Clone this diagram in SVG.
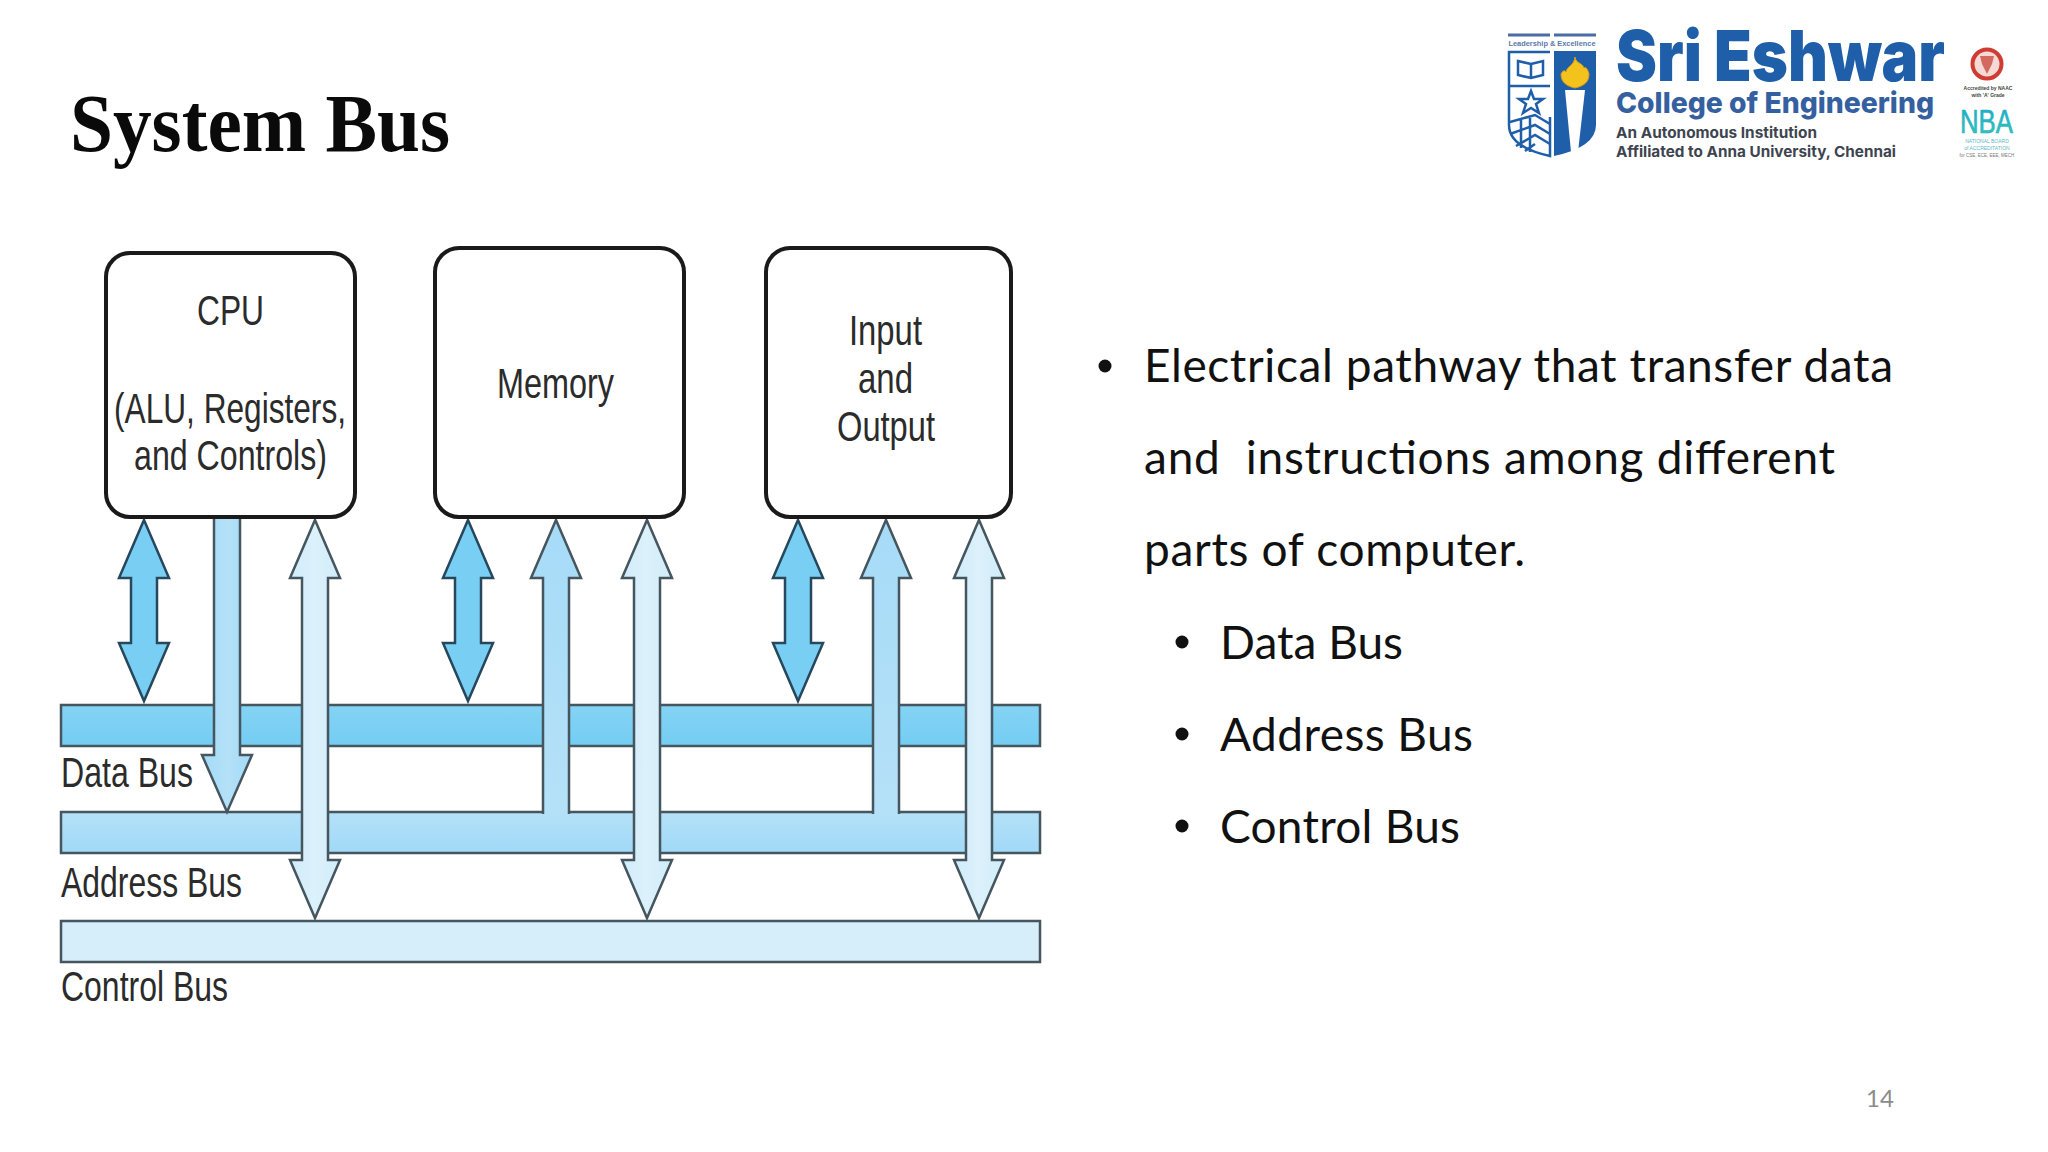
<svg xmlns="http://www.w3.org/2000/svg" width="2048" height="1152" viewBox="0 0 2048 1152">
<style>
.box{fill:#fff;stroke:#1a1a1a;stroke-width:4}
.bus{stroke:#46565f;stroke-width:2.5}
.arr{stroke:#46565f;stroke-width:2.5;stroke-linejoin:miter}
.d{fill:#79cff3;stroke:#26475c}
.a{fill:url(#ga)}
.s{fill:url(#gs)}
.c{fill:url(#gc)}
.lbl{font-family:"Liberation Sans",Arial,sans-serif;font-size:42px;fill:#2b2b2b}
.body{font-family:Lato,"Open Sans",sans-serif;font-size:46px;fill:#111}
.logo{font-family:Inter,"Liberation Sans",sans-serif}
.cl{fill:none;stroke:#1f5ea8;stroke-width:2.5}
.tiny{font-family:"Liberation Sans",sans-serif;text-anchor:middle}
</style>
<defs>
<linearGradient id="ga" x1="0" y1="0" x2="1" y2="0"><stop offset="0" stop-color="#a3daf7"/><stop offset=".5" stop-color="#b4e1f8"/><stop offset="1" stop-color="#a3daf7"/></linearGradient>
<linearGradient id="gs" gradientUnits="userSpaceOnUse" x1="0" y1="520" x2="0" y2="814"><stop offset="0" stop-color="#a6dbf7"/><stop offset="1" stop-color="#b5e1f8"/></linearGradient>
<linearGradient id="gc" x1="0" y1="0" x2="1" y2="0"><stop offset="0" stop-color="#d0ecfa"/><stop offset=".5" stop-color="#dcf1fb"/><stop offset="1" stop-color="#d0ecfa"/></linearGradient>
<linearGradient id="gb" x1="0" y1="0" x2="0" y2="1"><stop offset="0" stop-color="#b5e1f8"/><stop offset="1" stop-color="#a0d9f7"/></linearGradient>
<linearGradient id="gd" x1="0" y1="0" x2="0" y2="1"><stop offset="0" stop-color="#84d3f4"/><stop offset="1" stop-color="#74cdf3"/></linearGradient>
<linearGradient id="gn" x1="0" y1="0" x2="0" y2="1"><stop offset="0" stop-color="#1fa9c9"/><stop offset="1" stop-color="#35c9b4"/></linearGradient>
</defs>
<rect width="2048" height="1152" fill="#fff"/>
<text id="title" x="70" y="151" font-family="'Liberation Serif',serif" font-size="82" font-weight="700" fill="#0a0a0a" textLength="380" lengthAdjust="spacingAndGlyphs">System Bus</text>

<g id="bus-data"><rect class="bus" x="61" y="705" width="979" height="41" fill="url(#gd)"/><text class="lbl" x="61" y="787" textLength="132" lengthAdjust="spacingAndGlyphs">Data Bus</text></g>
<g id="bus-address"><rect class="bus" x="61" y="812" width="979" height="41" fill="url(#gb)"/><text class="lbl" x="61" y="897" textLength="181" lengthAdjust="spacingAndGlyphs">Address Bus</text></g>
<g id="bus-control"><rect class="bus" x="61" y="921" width="979" height="41" fill="#d5eefa"/><text class="lbl" x="61" y="1001" textLength="167" lengthAdjust="spacingAndGlyphs">Control Bus</text></g>

<g id="connectors">
<path class="arr d" d="M144 520L169 578H157V643H169L144 701L119 643H131V578H119Z"/>
<path class="arr d" d="M468 520L493 578H481V643H493L468 701L443 643H455V578H443Z"/>
<path class="arr d" d="M798 520L823 578H811V643H823L798 701L773 643H785V578H773Z"/>
<path class="arr a" d="M214 517V755H202L227 812L252 755H240V517"/>
<path class="arr s" d="M543 814V578H531L556 520L581 578H569V814"/>
<path class="arr s" d="M873 814V578H861L886 520L911 578H899V814"/>
<path class="arr c" d="M315 520L340 578H328V860H340L315 918L290 860H302V578H290Z"/>
<path class="arr c" d="M647 520L672 578H660V860H672L647 918L622 860H634V578H622Z"/>
<path class="arr c" d="M979 520L1004 578H992V860H1004L979 918L954 860H966V578H954Z"/>
</g>

<g id="node-cpu"><rect class="box" x="106" y="253" width="249" height="264" rx="24"/>
<text class="lbl" x="197" y="325" textLength="67" lengthAdjust="spacingAndGlyphs">CPU</text>
<text class="lbl" x="114" y="423" textLength="232" lengthAdjust="spacingAndGlyphs">(ALU, Registers,</text>
<text class="lbl" x="134" y="470" textLength="193" lengthAdjust="spacingAndGlyphs">and Controls)</text></g>
<g id="node-memory"><rect class="box" x="435" y="248" width="249" height="269" rx="24"/>
<text class="lbl" x="497" y="398" textLength="117" lengthAdjust="spacingAndGlyphs">Memory</text></g>
<g id="node-io"><rect class="box" x="766" y="248" width="245" height="269" rx="24"/>
<text class="lbl" x="849" y="345" textLength="73" lengthAdjust="spacingAndGlyphs">Input</text>
<text class="lbl" x="858" y="393" textLength="55" lengthAdjust="spacingAndGlyphs">and</text>
<text class="lbl" x="837" y="441" textLength="98" lengthAdjust="spacingAndGlyphs">Output</text></g>

<g id="bullets" class="body">
<circle cx="1105" cy="366" r="6.5" fill="#111"/><text x="1144" y="382" textLength="749">Electrical pathway that transfer data</text>
<text x="1144" y="474" xml:space="preserve" textLength="691">and  instructions among different</text>
<text x="1144" y="566" textLength="381">parts of computer.</text>
<circle cx="1182" cy="642" r="6.5" fill="#111"/><text x="1220" y="659" textLength="183">Data Bus</text>
<circle cx="1182" cy="734" r="6.5" fill="#111"/><text x="1220" y="751" textLength="253">Address Bus</text>
<circle cx="1182" cy="826" r="6.5" fill="#111"/><text x="1220" y="843" textLength="240">Control Bus</text>
</g>
<text id="page" x="1866" y="1107" font-family="Lato,sans-serif" font-size="24" fill="#8b8b8b">14</text>

<g id="logo">
<g id="crest">
<path d="M1508 35H1550M1554 35H1596" stroke="#4a6da5" stroke-width="3"/>
<text x="1552" y="46" text-anchor="middle" font-family="'Liberation Sans',sans-serif" font-size="7.5" font-weight="700" fill="#5a78ab" textLength="87" lengthAdjust="spacingAndGlyphs">Leadership &amp; Excellence</text>
<path d="M1554 51H1596V125Q1596 147 1554 156Z" fill="#1f5ea8"/>
<path class="cl" d="M1550 52H1509V125Q1509 147 1550 156V117"/>
<path class="cl" d="M1509 86H1550"/>
<path class="cl" d="M1518 61L1531 64L1543 61V75L1531 78L1518 75ZM1531 64V78"/>
<path class="cl" d="M1531 91L1534 99L1543 99L1536 104L1539 113L1531 108L1523 113L1526 104L1519 99L1528 99Z"/>
<path class="cl" d="M1510 122L1535 115L1550 124M1510 134L1535 125L1550 134M1516 146L1535 135L1550 144M1525 151L1535 144M1521 120V148M1530 118V152"/>
<path d="M1565 90H1585L1578 152H1571Z" fill="#fff"/>
<path d="M1575 57C1576 64 1582 62 1584 68C1586 66 1588 70 1589 74C1589 82 1584 86 1575 88C1566 86 1561 82 1561 74C1563 70 1565 70 1566 72C1567 66 1574 66 1575 57Z" fill="#f3c21d" stroke="#d99a1b"/>
</g>
<text class="logo" x="1616" y="81" font-size="70" style="font-weight:900" fill="#1f5ea8" textLength="329" lengthAdjust="spacingAndGlyphs">Sri Eshwar</text>
<text class="logo" x="1616" y="113" font-size="29" style="font-weight:800" fill="#35609f" textLength="318" lengthAdjust="spacingAndGlyphs">College of Engineering</text>
<text class="logo" x="1616" y="138" font-size="15" style="font-weight:700" fill="#3d4450" textLength="201" lengthAdjust="spacingAndGlyphs">An Autonomous Institution</text>
<text class="logo" x="1616" y="157" font-size="15" style="font-weight:700" fill="#3d4450" textLength="280" lengthAdjust="spacingAndGlyphs">Affiliated to Anna University, Chennai</text>
<g id="naac">
<circle cx="1987" cy="64" r="14.5" fill="#f4d9d4" stroke="#cf3c34" stroke-width="4"/>
<path d="M1980 56H1994L1992 64L1987 74L1982 64Z" fill="#d46a5f"/>
<text class="tiny" x="1988" y="90" font-size="5" font-weight="700" fill="#444">Accredited by NAAC</text>
<text class="tiny" x="1988" y="97" font-size="5" font-weight="700" fill="#444">with 'A' Grade</text>
</g>
<g id="nba">
<text x="1960" y="133" font-family="'Liberation Sans',sans-serif" font-size="33" fill="url(#gn)" stroke="#1fb0c4" stroke-width=".6" textLength="53" lengthAdjust="spacingAndGlyphs">NBA</text>
<text class="tiny" x="1987" y="143" font-size="5" fill="#5fb8bf">NATIONAL BOARD</text>
<text class="tiny" x="1987" y="150" font-size="5" fill="#5fb8bf">of ACCREDITATION</text>
<text class="tiny" x="1987" y="157" font-size="4.5" fill="#777">for CSE, ECE, EEE, MECH</text>
</g>
</g>
</svg>
